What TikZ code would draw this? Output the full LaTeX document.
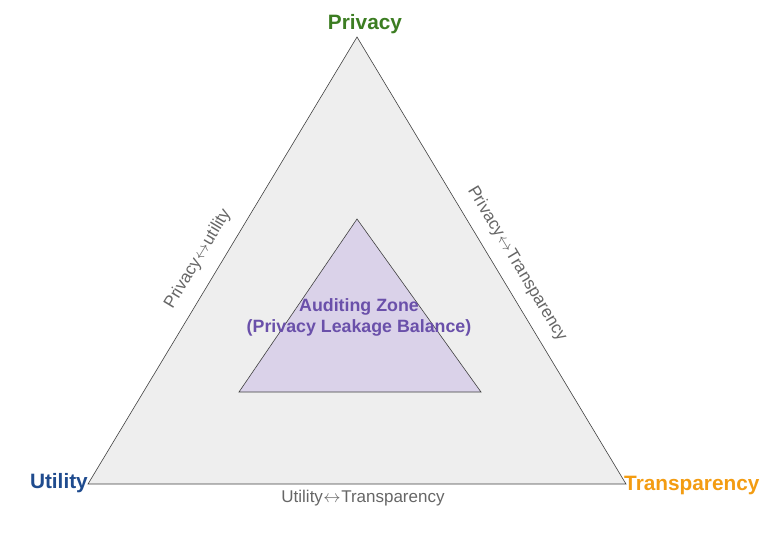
\documentclass[tikz,border=0pt]{standalone}
\usepackage{fontspec}
\setmainfont{Liberation Sans}
\usetikzlibrary{positioning}
\definecolor{privgreen}{HTML}{3C7D22}
\definecolor{utilblue}{HTML}{1F4B8E}
\definecolor{transorange}{HTML}{F39C12}
\definecolor{zonepurple}{HTML}{6A50AA}
\definecolor{zonefill}{HTML}{DAD2E9}
\definecolor{outerfill}{HTML}{EEEEEE}
\definecolor{edgegray}{HTML}{666666}
\newcommand{\tradeoff}{\kern.5pt$\leftrightarrow$\kern.5pt}
\tikzset{
	corner/.style = {font = \fontsize{20.8}{24}\selectfont\bfseries, inner sep = 0pt},
	edgelabel/.style = {font = \fontsize{17}{20}\selectfont, text = edgegray, inner sep = 0pt},
	tri/.style = {draw = black!75, line width = .6pt, line join = miter}
}
\begin{document}
\begin{tikzpicture}[x = 1pt, y = -1pt]
		\useasboundingbox (0, 0) rectangle (776, 541);
		% outer triangle
		\coordinate (top) at (357, 37);
		\coordinate (left) at (88, 484);
		\coordinate (right) at (626, 484);
		\filldraw[tri, fill = outerfill] (top) -- (left) -- (right) -- cycle;
		% auditing zone
		\coordinate (ztop) at (357, 219);
		\coordinate (zleft) at (239, 392);
		\coordinate (zright) at (481, 392);
		\filldraw[tri, fill = zonefill] (ztop) -- (zleft) -- (zright) -- cycle;
		\node[font = \fontsize{17.8}{21}\selectfont\bfseries, text = zonepurple, align = center] (zone) at (359, 317) {Auditing Zone\\(Privacy Leakage Balance)};
		% corners
		\node[corner, text = privgreen, anchor = base] (privacy) at (365, 29) {Privacy};
		\node[corner, text = utilblue, anchor = base east] (utility) at (88, 488) {Utility};
		\node[corner, text = transorange, anchor = base west] (transparency) at (624, 490) {Transparency};
		% trade-offs
		\node[edgelabel, rotate = 59] (pu) at (198, 259) {Privacy\tradeoff utility};
		\node[edgelabel, rotate = -59] (pt) at (517, 264) {Privacy\tradeoff Transparency};
		\node[edgelabel] (ut) at (363, 498) {Utility\tradeoff Transparency};
		\end{tikzpicture}
\end{document}
